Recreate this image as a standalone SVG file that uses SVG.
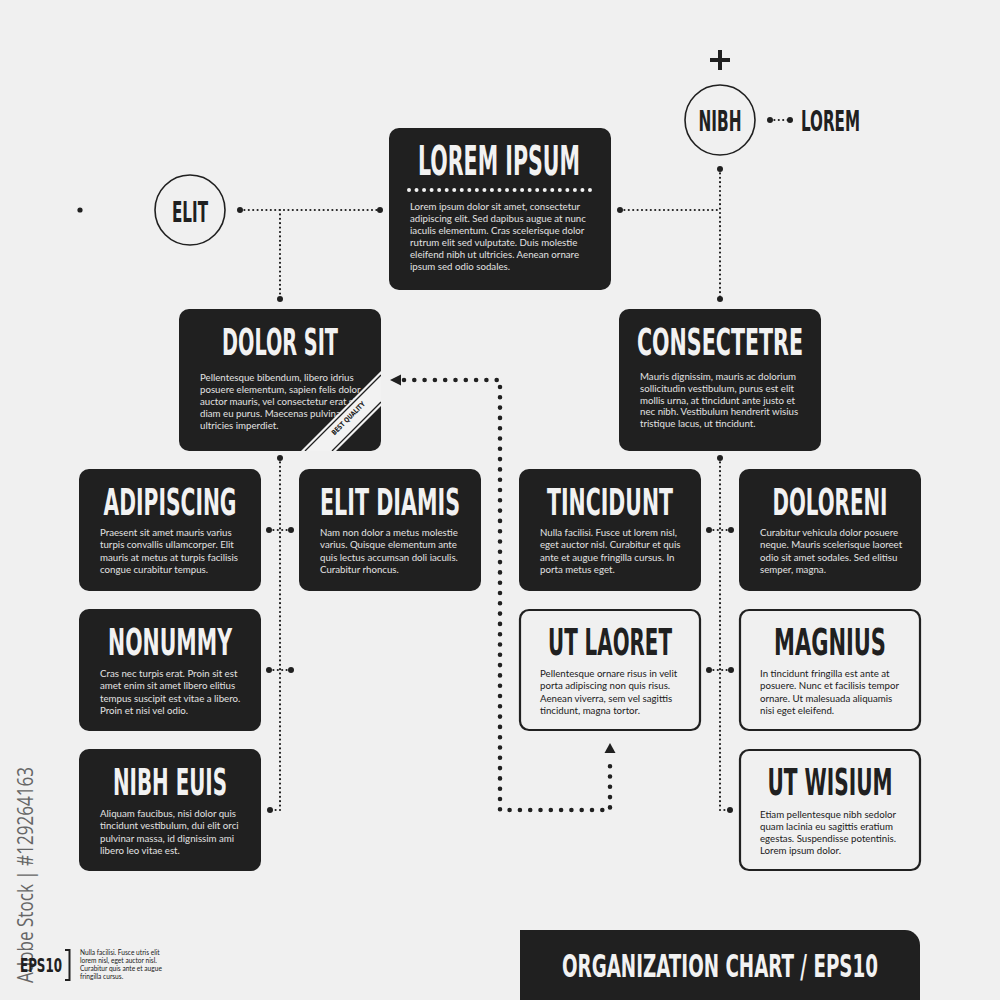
<svg xmlns="http://www.w3.org/2000/svg" width="1000" height="1000" viewBox="0 0 1000 1000">
<style>
.bg{fill:#f0f0f0}
.box{fill:#202020}
.obox{fill:none;stroke:#202020;stroke-width:2.2}
.ttl{font-family:'DejaVu Sans Condensed','Liberation Sans Narrow','DejaVu Sans',sans-serif;font-weight:bold;font-size:37px;fill:#f2f2f2;text-anchor:middle}
.ttl.dk{fill:#202020}
.lbl{font-family:'DejaVu Sans Condensed','Liberation Sans Narrow','DejaVu Sans',sans-serif;font-weight:bold;font-size:29px;fill:#202020}
.body{font-family:Lato,'Noto Sans','Liberation Sans',sans-serif;font-size:9.7px;fill:#e2e2e2}
.body.dk{fill:#202020}
.dot{fill:#202020}
.conn{fill:none;stroke:#202020;stroke-width:2.2;stroke-linecap:round;stroke-dasharray:0 4.4}
.big{fill:none;stroke:#202020;stroke-width:4.6;stroke-linecap:round;stroke-dasharray:0 10.3}
.ring{fill:none;stroke:#202020;stroke-width:1.6}
</style>
<defs>
<clipPath id="dsclip"><rect x="179" y="309" width="202" height="142" rx="10"/></clipPath>
</defs>
<rect class="bg" x="0" y="0" width="1000" height="1000"/>

<!-- watermark text on the left -->
<text x="33" y="983" transform="rotate(-90 33 983)" font-family="'Open Sans','Noto Sans',sans-serif" font-size="22" fill="#444" opacity="0.8" textLength="216" lengthAdjust="spacingAndGlyphs">Adobe Stock | #129264163</text>

<g id="connectors">
  <!-- top left -->
  <circle class="dot" cx="80" cy="210" r="2.6"/>
  <path class="conn" d="M240 210 H380 M280 210 V299"/>
  <circle class="dot" cx="240" cy="210" r="3"/>
  <circle class="dot" cx="380" cy="210" r="3"/>
  <circle class="dot" cx="280" cy="299" r="3"/>
  <!-- top right -->
  <path class="conn" d="M620 210 H720 M720 169 V299"/>
  <circle class="dot" cx="620" cy="210" r="3"/>
  <circle class="dot" cx="720" cy="169" r="3"/>
  <circle class="dot" cx="720" cy="299" r="3"/>
  <path class="conn" d="M770 120 H790"/>
  <circle class="dot" cx="770" cy="120" r="3"/>
  <circle class="dot" cx="790" cy="120" r="3"/>
  <!-- left tree -->
  <circle class="dot" cx="280" cy="458" r="3"/>
  <path class="conn" d="M280 458 V810 H270 M269 530 H291 M269 670 H291"/>
  <circle class="dot" cx="269" cy="530" r="3"/>
  <circle class="dot" cx="291" cy="530" r="3"/>
  <circle class="dot" cx="269" cy="670" r="3"/>
  <circle class="dot" cx="291" cy="670" r="3"/>
  <circle class="dot" cx="270" cy="810" r="3"/>
  <!-- right tree -->
  <circle class="dot" cx="720" cy="458" r="3"/>
  <path class="conn" d="M720 458 V810 H730 M709 530 H731 M709 670 H731"/>
  <circle class="dot" cx="709" cy="530" r="3"/>
  <circle class="dot" cx="731" cy="530" r="3"/>
  <circle class="dot" cx="709" cy="670" r="3"/>
  <circle class="dot" cx="731" cy="670" r="3"/>
  <circle class="dot" cx="730" cy="810" r="3"/>
  <!-- big dotted arrow -->
  <path class="big" d="M404 380 H500 V810 H610 V758"/>
  <polygon class="dot" points="390,380 401,374.5 401,385.5"/>
  <polygon class="dot" points="610,743 604.5,753 615.5,753"/>
</g>

<g id="elit">
  <circle class="ring" cx="190" cy="210" r="35"/>
  <text class="lbl" x="190" y="222" text-anchor="middle" textLength="36" lengthAdjust="spacingAndGlyphs">ELIT</text>
</g>

<g id="nibh">
  <path d="M710 60 H730 M720 50 V70" stroke="#202020" stroke-width="4"/>
  <circle class="ring" cx="720" cy="120" r="35"/>
  <text class="lbl" x="720" y="131" text-anchor="middle" textLength="43" lengthAdjust="spacingAndGlyphs">NIBH</text>
  <text class="lbl" x="801" y="131" textLength="59" lengthAdjust="spacingAndGlyphs">LOREM</text>
</g>

<g id="lorem-ipsum">
  <rect class="box" x="389" y="128" width="222" height="162" rx="10"/>
  <text class="ttl" x="499" y="175" style="font-size:41px" textLength="162" lengthAdjust="spacingAndGlyphs">LOREM IPSUM</text>
  <path d="M409 190 H590" fill="none" stroke="#f2f2f2" stroke-width="4" stroke-linecap="round" stroke-dasharray="0 7.54"/>
  <text class="body" x="410" y="210"><tspan x="410">Lorem ipsum dolor sit amet, consectetur</tspan><tspan x="410" dy="12">adipiscing elit. Sed dapibus augue at nunc</tspan><tspan x="410" dy="12">iaculis elementum. Cras scelerisque dolor</tspan><tspan x="410" dy="12">rutrum elit sed vulputate. Duis molestie</tspan><tspan x="410" dy="12">eleifend nibh ut ultricies. Aenean ornare</tspan><tspan x="410" dy="12">ipsum sed odio sodales.</tspan></text>
</g>

<g id="dolor-sit">
  <rect class="box" x="179" y="309" width="202" height="142" rx="10"/>
  <text class="ttl" x="280" y="355" textLength="116" lengthAdjust="spacingAndGlyphs">DOLOR SIT</text>
  <text class="body" x="200" y="381"><tspan x="200">Pellentesque bibendum, libero idrius</tspan><tspan x="200" dy="12">posuere elementum, sapien felis dolor</tspan><tspan x="200" dy="12">auctor mauris, vel consectetur erat sit</tspan><tspan x="200" dy="12">diam eu purus. Maecenas pulvinar</tspan><tspan x="200" dy="12">ultricies imperdiet.</tspan></text>
  <g clip-path="url(#dsclip)">
    <polygon points="381,371 381,406 336,451 301,451" fill="#f2f2f2"/>
    <path d="M381 375 L305 451 M381 402 L332 451" stroke="#202020" stroke-width="1.3"/>
  </g>
  <text x="350" y="420" transform="rotate(-45 350 420)" text-anchor="middle" font-family="'DejaVu Sans Condensed','DejaVu Sans',sans-serif" font-weight="bold" font-size="7" fill="#202020" textLength="44" lengthAdjust="spacingAndGlyphs">BEST QUALITY</text>
</g>

<g id="consectetre">
  <rect class="box" x="619" y="309" width="202" height="142" rx="10"/>
  <text class="ttl" x="720" y="355" textLength="166" lengthAdjust="spacingAndGlyphs">CONSECTETRE</text>
  <text class="body" x="640" y="380"><tspan x="640">Mauris dignissim, mauris ac dolorium</tspan><tspan x="640" dy="11.8">sollicitudin vestibulum, purus est elit</tspan><tspan x="640" dy="11.8">mollis urna, at tincidunt ante justo et</tspan><tspan x="640" dy="11.8">nec nibh. Vestibulum hendrerit wisius</tspan><tspan x="640" dy="11.8">tristique lacus, ut tincidunt.</tspan></text>
</g>

<g id="adipiscing">
  <rect class="box" x="79" y="469" width="182" height="122" rx="10"/>
  <text class="ttl" x="170" y="515" textLength="133" lengthAdjust="spacingAndGlyphs">ADIPISCING</text>
  <text class="body" x="100" y="536"><tspan x="100">Praesent sit amet mauris varius</tspan><tspan x="100" dy="12.3">turpis convallis ullamcorper.  Elit</tspan><tspan x="100" dy="12.3">mauris at metus at turpis facilisis</tspan><tspan x="100" dy="12.3">congue curabitur tempus.</tspan></text>
</g>

<g id="elit-diamis">
  <rect class="box" x="299" y="469" width="182" height="122" rx="10"/>
  <text class="ttl" x="390" y="515" textLength="140" lengthAdjust="spacingAndGlyphs">ELIT DIAMIS</text>
  <text class="body" x="320" y="536"><tspan x="320">Nam non dolor a metus molestie</tspan><tspan x="320" dy="12.3">varius. Quisque elementum ante</tspan><tspan x="320" dy="12.3">quis lectus accumsan doli iaculis.</tspan><tspan x="320" dy="12.3">Curabitur rhoncus.</tspan></text>
</g>

<g id="tincidunt">
  <rect class="box" x="519" y="469" width="182" height="122" rx="10"/>
  <text class="ttl" x="610" y="515" textLength="126" lengthAdjust="spacingAndGlyphs">TINCIDUNT</text>
  <text class="body" x="540" y="536"><tspan x="540">Nulla facilisi. Fusce ut lorem nisl,</tspan><tspan x="540" dy="12.3">eget auctor nisl. Curabitur et quis</tspan><tspan x="540" dy="12.3">ante et augue fringilla cursus. In</tspan><tspan x="540" dy="12.3">porta metus eget.</tspan></text>
</g>

<g id="doloreni">
  <rect class="box" x="739" y="469" width="182" height="122" rx="10"/>
  <text class="ttl" x="830" y="515" textLength="115" lengthAdjust="spacingAndGlyphs">DOLORENI</text>
  <text class="body" x="760" y="536"><tspan x="760">Curabitur vehicula dolor posuere</tspan><tspan x="760" dy="12.3">neque. Mauris scelerisque laoreet</tspan><tspan x="760" dy="12.3">odio sit amet sodales. Sed elitisu</tspan><tspan x="760" dy="12.3">semper, magna.</tspan></text>
</g>

<g id="nonummy">
  <rect class="box" x="79" y="609" width="182" height="122" rx="10"/>
  <text class="ttl" x="170" y="655" textLength="124" lengthAdjust="spacingAndGlyphs">NONUMMY</text>
  <text class="body" x="100" y="677"><tspan x="100">Cras nec turpis erat. Proin sit est</tspan><tspan x="100" dy="12.3">amet enim sit amet libero elitius</tspan><tspan x="100" dy="12.3">tempus suscipit est vitae a libero.</tspan><tspan x="100" dy="12.3">Proin et nisi vel odio.</tspan></text>
</g>

<g id="ut-laoret">
  <rect class="obox" x="520" y="610" width="180" height="120" rx="9"/>
  <text class="ttl dk" x="610" y="655" textLength="124" lengthAdjust="spacingAndGlyphs">UT LAORET</text>
  <text class="body dk" x="540" y="677"><tspan x="540">Pellentesque ornare risus in velit</tspan><tspan x="540" dy="12.3">porta adipiscing non quis risus.</tspan><tspan x="540" dy="12.3">Aenean viverra, sem vel sagittis</tspan><tspan x="540" dy="12.3">tincidunt, magna tortor.</tspan></text>
</g>

<g id="magnius">
  <rect class="obox" x="740" y="610" width="180" height="120" rx="9"/>
  <text class="ttl dk" x="830" y="655" textLength="112" lengthAdjust="spacingAndGlyphs">MAGNIUS</text>
  <text class="body dk" x="760" y="677"><tspan x="760">In tincidunt fringilla est ante at</tspan><tspan x="760" dy="12.3">posuere. Nunc et facilisis tempor</tspan><tspan x="760" dy="12.3">ornare. Ut malesuada aliquamis</tspan><tspan x="760" dy="12.3">nisi eget eleifend.</tspan></text>
</g>

<g id="nibh-euis">
  <rect class="box" x="79" y="749" width="182" height="122" rx="10"/>
  <text class="ttl" x="170" y="795" textLength="114" lengthAdjust="spacingAndGlyphs">NIBH EUIS</text>
  <text class="body" x="100" y="817"><tspan x="100">Aliquam faucibus, nisi dolor quis</tspan><tspan x="100" dy="12.3">tincidunt vestibulum, dui elit orci</tspan><tspan x="100" dy="12.3">pulvinar massa, id dignissim ami</tspan><tspan x="100" dy="12.3">libero leo vitae est.</tspan></text>
</g>

<g id="ut-wisium">
  <rect class="obox" x="740" y="750" width="180" height="120" rx="9"/>
  <text class="ttl dk" x="830" y="795" textLength="125" lengthAdjust="spacingAndGlyphs">UT WISIUM</text>
  <text class="body dk" x="760" y="818"><tspan x="760">Etiam pellentesque nibh sedolor</tspan><tspan x="760" dy="12">quam lacinia eu sagittis eratium</tspan><tspan x="760" dy="12">egestas. Suspendisse potentinis.</tspan><tspan x="760" dy="12">Lorem ipsum dolor.</tspan></text>
</g>

<g id="eps-note">
  <text x="20" y="972" font-family="'DejaVu Sans Condensed','DejaVu Sans',sans-serif" font-weight="bold" font-size="19" fill="#202020" textLength="42" lengthAdjust="spacingAndGlyphs">EPS10</text>
  <path d="M65 950 H69.5 V980 H65" fill="none" stroke="#202020" stroke-width="2"/>
  <text font-family="Lato,'Noto Sans',sans-serif" font-size="6.6" fill="#202020"><tspan x="80" y="955">Nulla facilisi. Fusce utris elit</tspan><tspan x="80" y="963">lorem nisl, eget auctor nisl.</tspan><tspan x="80" y="971">Curabitur quis ante et augue</tspan><tspan x="80" y="979">fringilla cursus.</tspan></text>
</g>

<g id="footer">
  <path d="M520 930 H905 A15 15 0 0 1 920 945 V1000 H520 Z" fill="#202020"/>
  <text class="ttl" transform="translate(720 977) scale(1 1.5)" x="0" y="0" style="font-size:21px" textLength="316" lengthAdjust="spacingAndGlyphs">ORGANIZATION CHART / EPS10</text>
</g>
</svg>
